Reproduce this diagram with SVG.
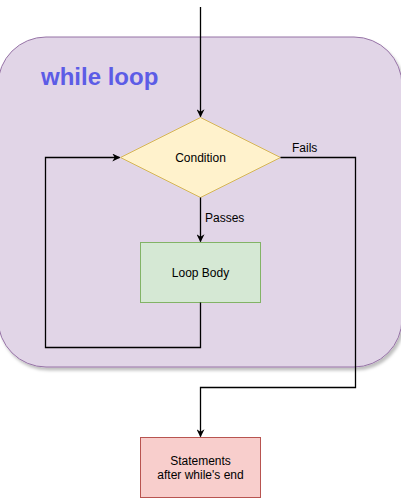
<svg xmlns="http://www.w3.org/2000/svg" width="401" height="498" viewBox="0 0 401 498">
<style>
.lbl{font-family:"Liberation Sans",Arial,sans-serif;font-size:12px;fill:#000}
.c{text-anchor:middle}
.edge{fill:none;stroke:#000;stroke-width:1.3}
</style>
<defs>
<marker id="arr" viewBox="0 0 10 10" refX="9" refY="5" markerWidth="8" markerHeight="8" markerUnits="userSpaceOnUse" orient="auto">
<path d="M0,0 L10,5 L0,10 L3,5 Z" fill="#000"/>
</marker>
<filter id="sh" x="-5%" y="-5%" width="110%" height="110%">
<feDropShadow dx="2" dy="3" stdDeviation="1.5" flood-color="#000" flood-opacity="0.25"/>
</filter>
</defs>
<g id="while-loop">
<rect x="-2" y="37" width="404" height="330" rx="48" ry="48" fill="#e1d5e7" stroke="#9673a6" stroke-width="1" filter="url(#sh)"/>
<text x="41" y="85" style="font-family:'Liberation Sans',Arial,sans-serif;font-size:24px;font-weight:bold;fill:#5c5ce6">while loop</text>
</g>
<g id="condition">
<polygon points="200.5,117.5 280.5,157.5 200.5,197.5 120.5,157.5" fill="#fff2cc" stroke="#d6b656"/>
<text class="lbl c" x="200.5" y="161.5">Condition</text>
</g>
<g id="loop-body">
<rect x="140.5" y="242.5" width="120" height="60" fill="#d5e8d4" stroke="#82b366"/>
<text class="lbl c" x="200.5" y="277">Loop Body</text>
</g>
<g id="statements">
<rect x="140.5" y="437.5" width="120" height="60" fill="#f8cecc" stroke="#b85450"/>
<text class="lbl c" x="200.5" y="465">Statements</text>
<text class="lbl c" x="200.5" y="479">after while's end</text>
</g>
<g id="connectors">
<path class="edge" d="M200.5,7 V116.5" marker-end="url(#arr)"/>
<path class="edge" d="M200.5,197.5 V241.5" marker-end="url(#arr)"/>
<text class="lbl" x="205" y="222">Passes</text>
<path class="edge" d="M200.5,302.5 V347.5 H45.5 V157.5 H119.5" marker-end="url(#arr)"/>
<path class="edge" d="M280.5,157.5 H355.5 V387.5 H200.5 V436.5" marker-end="url(#arr)"/>
<text class="lbl" x="292" y="152">Fails</text>
</g>
</svg>
